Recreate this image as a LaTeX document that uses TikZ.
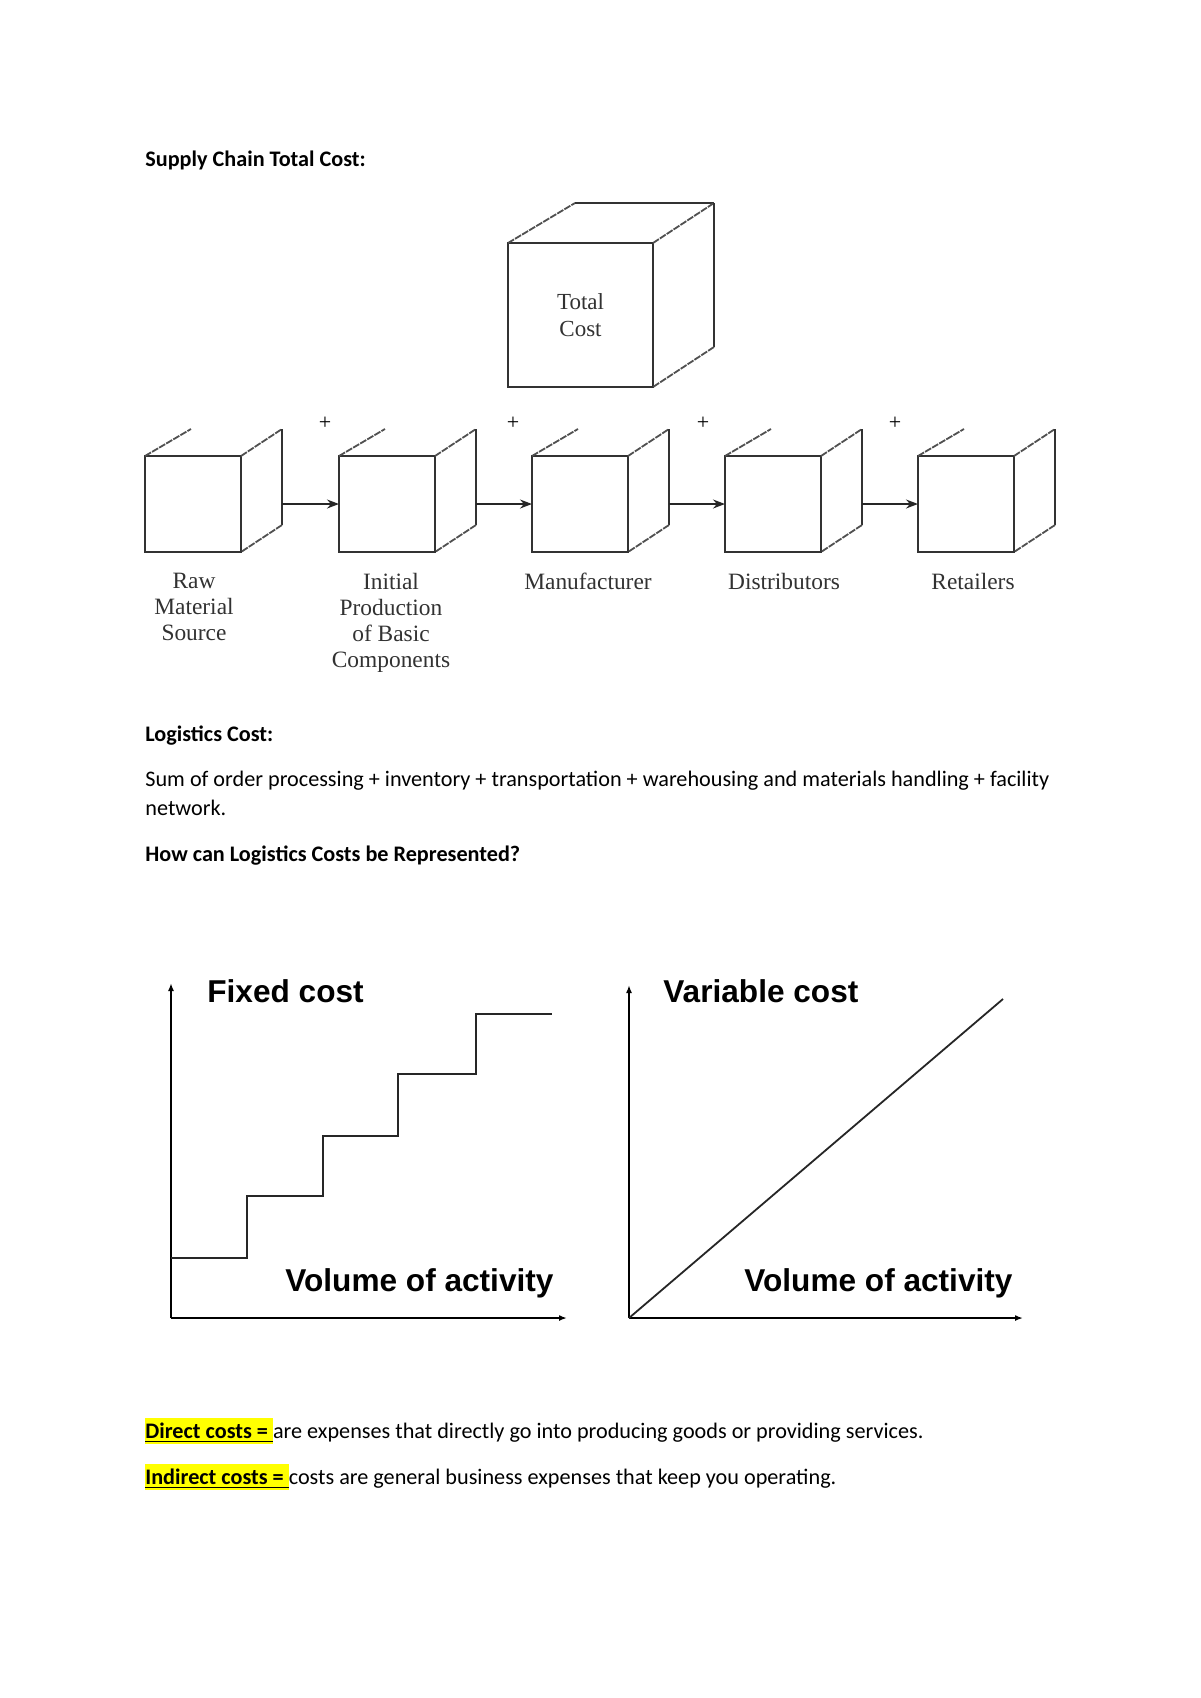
\documentclass[tikz,border=0pt]{standalone}
\usepackage{fontspec}
\setmainfont{Carlito}
\newfontfamily\serifl{Liberation Serif}
\newfontfamily\sansl{Liberation Sans}
\usetikzlibrary{arrows.meta,calc}
\definecolor{hl}{RGB}{255,255,0}
\definecolor{ink}{RGB}{50,50,50}
\definecolor{ink2}{RGB}{80,80,80}
\newcommand{\hlbox}[1]{{\setlength{\fboxsep}{0pt}\colorbox{hl}{\rule[-3pt]{0pt}{13pt}\textbf{\underline{#1}}}}}
\begin{document}
\begin{tikzpicture}[x=0.5pt,y=-0.5pt,
  face/.style={draw=ink,line width=0.9pt,minimum width=48pt,minimum height=48pt,inner sep=0,outer sep=0},
  bigface/.style={draw=ink,line width=0.9pt,minimum width=72.5pt,minimum height=72pt,inner sep=0,outer sep=0,
    font=\serifl\fontsize{11.5}{13.5}\selectfont,align=center,text=ink},
  edge/.style={draw=ink,line width=0.9pt},
  brk/.style={draw=ink2,line width=0.9pt,dash pattern=on 3.5pt off 0.6pt},
  flow/.style={draw=black!85,line width=0.7pt,-{Stealth[length=6pt,width=4.5pt,inset=2pt]}},
  lbl/.style={font=\serifl\fontsize{11.7}{13}\selectfont,anchor=north,inner sep=0,align=center,text=ink},
  plus/.style={font=\serifl\fontsize{11}{12}\selectfont,inner sep=0},
  body/.style={font=\fontsize{11.1}{13.5}\selectfont,anchor=base west,inner sep=0},
  head/.style={font=\bfseries\fontsize{11.1}{13.5}\selectfont,anchor=base west,inner sep=0},
  axis/.style={draw=black,line width=0.8pt,-{Latex[length=4pt,width=3pt]}},
  curve/.style={draw=black!85,line width=0.9pt},
  ctitle/.style={font=\sansl\bfseries\fontsize{15.8}{18}\selectfont,anchor=base west,inner sep=0},
]
\useasboundingbox[fill=white] (0,0) rectangle (1200,1698);

% headings and text
\node[head] (h1) at (145,166) {Supply Chain Total Cost:};
\node[head] (h2) at (145,741) {Logistics Cost:};
\node[body] (t1) at (145,786) {Sum of order processing + inventory + transportation + warehousing and materials handling + facility};
\node[body] (t2) at (145,815) {network.};
\node[head] (h3) at (145,861) {How can Logistics Costs be Represented?};
\node[body] (d1) at (145,1438) {\hlbox{Direct costs =\ }are expenses that directly go into producing goods or providing services.};
\node[body] (d2) at (145,1484) {\hlbox{Indirect costs =\ }costs are general business expenses that keep you operating.};

% total cost cube
\node[bigface] (tc) at (580.5,315) {Total\\Cost};
\coordinate (tcl) at (575,203);
\coordinate (tcr) at (714,203);
\coordinate (tcb) at (714,347);
\draw[brk] (tc.north west) -- (tcl);
\draw[edge] (tcl) -- (tcr);
\draw[brk] (tc.north east) -- (tcr);
\draw[edge] (tcr) -- (tcb);
\draw[brk] (tcb) -- (tc.south east);

% chain of cubes
\foreach \n/\x in {1/193,2/387,3/580,4/773,5/966} {
  \node[face] (b\n) at (\x,504) {};
  \draw[brk] (b\n.north west) -- ++(46,-27);
  \draw[brk] (b\n.north east) -- ++(41,-27) coordinate (bt\n);
  \draw[edge] (bt\n) -- ++(0,96) coordinate (bb\n);
  \draw[brk] (bb\n) -- (b\n.south east);
}
\draw[flow] (bt1 |- b1.east) -- (b2.west);
\draw[flow] (bt2 |- b2.east) -- (b3.west);
\draw[flow] (bt3 |- b3.east) -- (b4.west);
\draw[flow] (bt4 |- b4.east) -- (b5.west);

\node[plus] (p1) at (325,423) {+};
\node[plus] (p2) at (513,423) {+};
\node[plus] (p3) at (703,423) {+};
\node[plus] (p4) at (895,423) {+};

\node[lbl] (l1) at (194,573) {Raw\\Material\\Source};
\node[lbl] (l2) at (391,573) {Initial\\Production\\of Basic\\Components};
\node[lbl] (l3) at (588,573) {Manufacturer};
\node[lbl] (l4) at (784,573) {Distributors};
\node[lbl] (l5) at (973,573) {Retailers};

% fixed cost chart
\coordinate (fo) at (171,1318);
\coordinate (fy) at (171,983);
\coordinate (fx) at (567,1318);
\draw[axis] (fo) -- (fy);
\draw[axis] (fo) -- (fx);
\draw[curve] (171,1258) -| (247,1196) -| (323,1136) -| (398,1074) -| (476,1014) -- (552,1014);
\node[ctitle] (ft) at (207,1002) {Fixed cost};
\node[ctitle] (fv) at (285,1291) {Volume of activity};

% variable cost chart
\coordinate (vo) at (629,1318);
\coordinate (vy) at (629,985);
\coordinate (vx) at (1023,1318);
\coordinate (ve) at (1003,999);
\draw[axis] (vo) -- (vy);
\draw[axis] (vo) -- (vx);
\draw[curve] (vo) -- (ve);
\node[ctitle] (vt) at (663,1002) {Variable cost};
\node[ctitle] (vv) at (744,1291) {Volume of activity};
\end{tikzpicture}
\end{document}
